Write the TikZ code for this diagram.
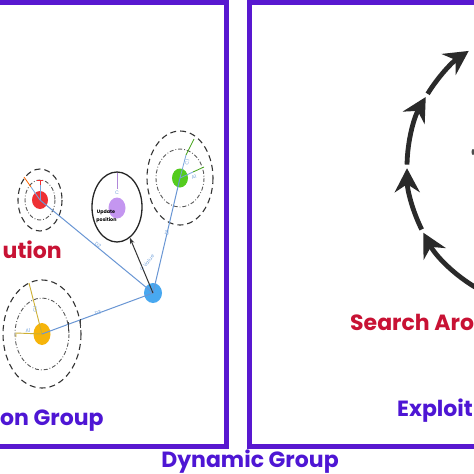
\documentclass[tikz,border=0pt]{standalone}
\usepackage{fontspec}
\setmainfont{Poppins}
\usetikzlibrary{arrows.meta,shapes.geometric}
\definecolor{framepurple}{RGB}{88,24,208}
\definecolor{textpurple}{RGB}{78,22,212}
\definecolor{textred}{RGB}{200,18,52}
\definecolor{redblob}{RGB}{238,48,52}
\definecolor{greenblob}{RGB}{84,204,30}
\definecolor{blueblob}{RGB}{72,168,240}
\definecolor{orangeblob}{RGB}{246,180,10}
\definecolor{violetblob}{RGB}{196,150,240}
\definecolor{dline}{RGB}{105,150,212}
\definecolor{lbl}{RGB}{120,165,220}
\definecolor{arcgray}{RGB}{42,42,42}
\definecolor{olive}{RGB}{205,175,50}
\begin{document}
\begin{tikzpicture}[x=1pt,y=-1pt,
  frame/.style={draw=framepurple,line width=5pt},
  blob/.style={ellipse,draw=none,inner sep=0pt},
  ringout/.style={draw=black!80,line width=1.1pt,dash pattern=on 6pt off 4pt},
  ringin/.style={draw=black!65,line width=0.9pt,dash pattern=on 4pt off 2pt on 0.8pt off 2pt},
  dconn/.style={draw=dline,line width=1pt},
  tinylbl/.style={text=lbl,font=\fontsize{5}{5.5}\selectfont,inner sep=0pt},
  bigred/.style={text=textred,font=\fontsize{22}{25}\selectfont\bfseries,inner sep=0pt},
  bigpurple/.style={text=textpurple,font=\fontsize{22}{25}\selectfont\bfseries,inner sep=0pt},
  arcarrow/.style={draw=arcgray,line width=4.8pt,-{Stealth[length=24pt,width=25pt,inset=8pt]}},
]
\useasboundingbox (0,0) rectangle (474,474);
\fill[white] (0,0) rectangle (474,474);
\clip (0,0) rectangle (474,474);

% panel frames
\draw[frame] (-10,2.5) rectangle (226,446);
\draw[frame] (249.5,2.5) rectangle (490,446);

% blobs
\node[blob,fill=redblob,minimum width=16pt,minimum height=18pt] (red) at (40,200) {};
\node[blob,fill=greenblob,minimum width=16pt,minimum height=19pt] (green) at (180,178) {};
\node[blob,fill=blueblob,minimum width=18pt,minimum height=20pt] (blue) at (153,293) {};
\node[blob,fill=orangeblob,minimum width=17pt,minimum height=22pt] (orange) at (42,334) {};
\node[blob,fill=violetblob,minimum width=17pt,minimum height=21pt] (violet) at (117,208) {};
\node[ellipse,draw=black!85,line width=1.3pt,minimum width=50pt,minimum height=70pt,inner sep=0pt] (upd) at (117,207) {};

% rings
\path[ringout] (red.center) ellipse [x radius=22, y radius=31];
\path[ringin] (red.center) ellipse [x radius=15, y radius=20];
\path[ringout] (green.center) ellipse [x radius=33, y radius=47];
\path[ringin] (green.center) ellipse [x radius=24, y radius=29];
\path[ringout] (orange.center) ellipse [x radius=39, y radius=54];
\path[ringin] (orange.center) ellipse [x radius=27, y radius=36];

% radial marks
\draw[lbl,line width=0.8pt] (red.center) -- (31,187);
\draw[orange!80!red,line width=0.8pt] (31,187) -- (24,177);
\draw[lbl,line width=0.8pt] (red.center) -- (40,185);
\draw[redblob,line width=0.8pt] (40,185) -- (40,180) (37,180) -- (43,180);
\draw[lbl,line width=0.8pt] (green.center) -- (186,155);
\draw[greenblob!80!black,line width=0.8pt] (186,155) -- (194,139);
\draw[lbl,line width=0.8pt] (green.center) -- (193,172);
\draw[greenblob!80!black,line width=0.8pt] (193,172) -- (204,167);
\node[tinylbl,rotate=75] at (187,162) {C1};
\node[tinylbl,rotate=20] at (194,177) {A1};
\draw[olive,line width=0.9pt] (orange.center) -- (29,283);
\draw[olive,line width=0.9pt] (orange.center) -- (16,333) -- (16,337);
\node[tinylbl,rotate=80] at (35,309) {C1};
\node[tinylbl] at (28,330.5) {A1};
\draw[violetblob!90!black,line width=1pt] (117,173) -- (117,189);
\node[tinylbl] at (117,192.5) {C};
\node[font=\fontsize{4.8}{5}\selectfont\bfseries,inner sep=0pt] at (106,212.5) {Update};
\node[font=\fontsize{4.8}{5}\selectfont\bfseries,inner sep=0pt] at (106.5,220.5) {position};

% distance connectors
\draw[dconn] (blue.center) -- (red.center);
\draw[dconn] (blue.center) -- (green.center);
\draw[dconn] (blue.center) -- (orange.center);
\draw[black!75,line width=1pt] (68,322) -- (68,331) (80,319) -- (80,328);
\node[tinylbl,rotate=-39.5] at (98,245) {D2};
\node[tinylbl,rotate=77] at (167,233) {D1};
\node[tinylbl,rotate=20] at (98,313) {D3};
\draw[black!80,line width=1pt,-{Stealth[length=6pt,width=4.5pt]}] (blue.center) -- (upd);
\node[tinylbl,rotate=52] at (147,263) {C Value};

% right panel circular arrows
\draw[arcarrow] (547,167) ++(120:140) arc[start angle=120,end angle=152,radius=140];
\draw[arcarrow] (547,167) ++(153.5:140) arc[start angle=153.5,end angle=179.5,radius=140];
\draw[arcarrow] (547,167) ++(181:140) arc[start angle=181,end angle=210,radius=140];
\draw[arcarrow] (547,167) ++(211.5:140) arc[start angle=211.5,end angle=236,radius=140];
\fill[black!70] (473,152) ellipse [x radius=1.5, y radius=3];

% texts
\node[bigred,anchor=base east] (t1) at (62,258) {ution};
\node[bigpurple,anchor=base west] (t2) at (0,425) {on Group};
\node[bigred,anchor=base west] (t3) at (350,330) {Search Aro};
\node[bigpurple,anchor=base west] (t4) at (397,416) {Exploit};
\node[bigpurple,anchor=base] (t5) at (250,467) {Dynamic Group};
\end{tikzpicture}
\end{document}
